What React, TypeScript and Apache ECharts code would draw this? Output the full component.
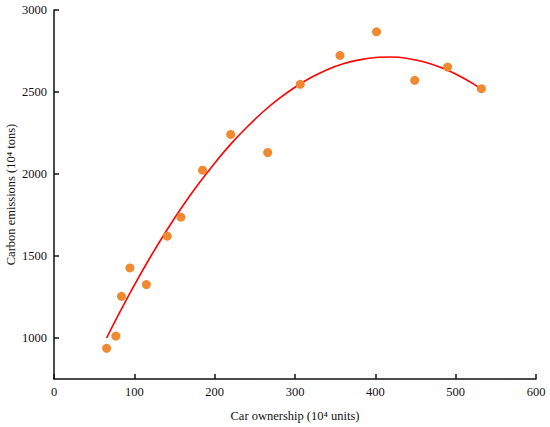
import React, { useEffect, useRef } from "react";
import * as echarts from "echarts";

const ownership = [65.5, 77, 84, 94.5, 115, 141, 158, 185, 220, 266, 306.5, 356, 401.5, 449, 490, 532];
const emissions = [937, 1012, 1254, 1427, 1326, 1621, 1737, 2023, 2241, 2131, 2547, 2723, 2867, 2571, 2652, 2520];

// fitted curve
const fitX = [65.5, 80, 100, 120, 140, 160, 180, 200, 220, 240, 260, 280, 300, 320, 340, 360, 380, 400, 420, 440, 460, 480, 500, 520, 532];
const fitY = [1000, 1139, 1322, 1494, 1654, 1803, 1940, 2066, 2182, 2285, 2378, 2459, 2529, 2588, 2636, 2672, 2696, 2710, 2713, 2704, 2684, 2652, 2610, 2556, 2518];

const yTicks = [1000, 1500, 2000, 2500, 3000];
const xTitle = "Car ownership (10⁴ units)";
const yTitle = "Carbon emissions (10⁴ tons)";

export default function App() {
  const ref = useRef<HTMLDivElement>(null);
  useEffect(() => {
    if (!ref.current) return;
    const chart = echarts.init(ref.current, null, { renderer: "svg" });
    const font = "Liberation Serif, serif";
    chart.setOption({
      animation: false,
      backgroundColor: "#ffffff",
      textStyle: { fontFamily: font },
      grid: { left: 54, right: 14, top: 10, bottom: 48, containLabel: false, outerBoundsMode: "none" },
      xAxis: {
        type: "value",
        min: 0,
        max: 600,
        interval: 100,
        name: xTitle,
        nameLocation: "middle",
        nameGap: 30,
        nameMoveOverlap: false,
        nameTextStyle: { fontFamily: font, fontSize: 12.5, color: "#111" },
        axisLine: { show: true, lineStyle: { color: "#111", width: 1.5 } },
        axisTick: { show: true, inside: true, length: 5, lineStyle: { color: "#111", width: 1.5 } },
        axisLabel: { fontFamily: font, fontSize: 12.5, color: "#111", margin: 6, formatter: (v: number) => String(v) },
        splitLine: { show: false },
      },
      yAxis: {
        type: "value",
        min: 750,
        max: 3000,
        name: yTitle,
        nameLocation: "middle",
        nameGap: 37,
        nameMoveOverlap: false,
        nameTextStyle: { fontFamily: font, fontSize: 12.5, color: "#111" },
        axisLine: { show: true, lineStyle: { color: "#111", width: 1.5 } },
        axisTick: {
          show: true,
          inside: true,
          length: 5,
          customValues: yTicks,
          lineStyle: { color: "#111", width: 1.5 },
        },
        axisLabel: {
          fontFamily: font,
          fontSize: 12.5,
          color: "#111",
          margin: 7,
          customValues: yTicks,
          formatter: (v: number) => String(v),
        },
        splitLine: { show: false },
      },
      series: [
        {
          type: "line",
          data: fitX.map((x, i) => [x, fitY[i]]),
          smooth: 0.3,
          showSymbol: false,
          symbol: "none",
          lineStyle: { color: "#ff0000", width: 1.6 },
          z: 2,
        },
        {
          type: "scatter",
          data: ownership.map((x, i) => [x, emissions[i]]),
          symbolSize: 9,
          itemStyle: { color: "#f08a30", opacity: 1 },
          z: 3,
        },
      ],
    });
    return () => chart.dispose();
  }, []);
  return (
    <div
      ref={ref}
      style={{ position: "absolute", left: 0, top: 0, width: 550, height: 427 }}
    />
  );
}
